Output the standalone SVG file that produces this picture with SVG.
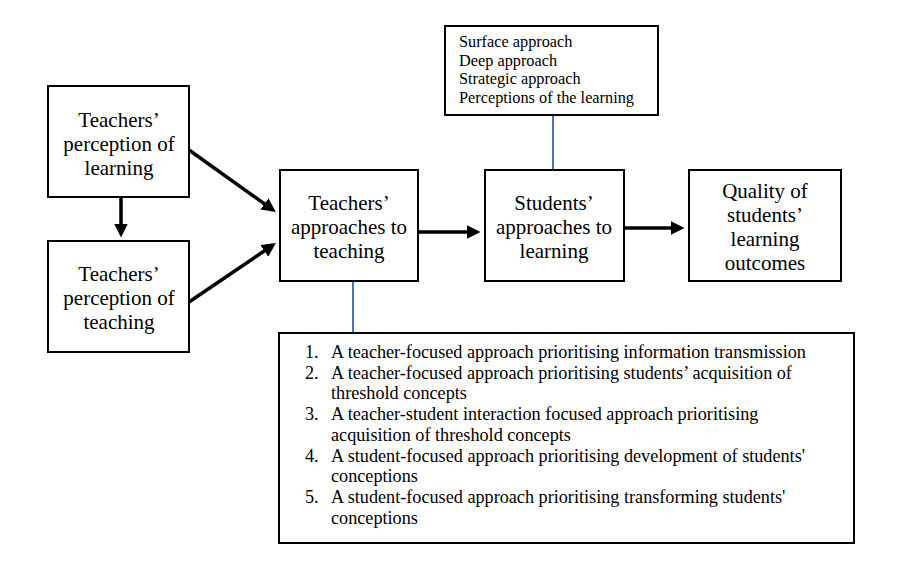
<svg xmlns="http://www.w3.org/2000/svg" width="920" height="574" viewBox="0 0 920 574">
<style>
.b{fill:#fff;stroke:#000;stroke-width:2}
.t{font-family:"Liberation Serif",serif;font-size:21px;text-anchor:middle;fill:#000}
.s{font-family:"Liberation Serif",serif;font-size:16.3px;fill:#000}
.l{font-family:"Liberation Serif",serif;font-size:18.2px;fill:#000}
.a{stroke:#000;stroke-width:3.5;fill:none;marker-end:url(#ah)}
.bl{stroke:#4472c4;stroke-width:2}
</style>
<defs><marker id="ah" markerWidth="4" markerHeight="4" refX="3" refY="2" orient="auto"><path d="M0,0L4,2L0,4z" fill="#000"/></marker></defs>
<rect width="920" height="574" fill="#fff"/>
<g id="connectors">
<line class="a" x1="189" y1="150" x2="273" y2="210"/>
<line class="a" x1="189" y1="302" x2="273" y2="245"/>
<line class="a" x1="121" y1="198" x2="121" y2="234"/>
<line class="a" x1="419" y1="232" x2="477" y2="232"/>
<line class="a" x1="625" y1="228" x2="681" y2="228"/>
<line class="bl" x1="553" y1="115" x2="553" y2="170"/>
<line class="bl" x1="353" y1="281" x2="353" y2="333"/>
</g>
<g id="n1"><rect class="b" x="48" y="86" width="141" height="111"/>
<text class="t" x="119" y="127">Teachers’</text><text class="t" x="119" y="151">perception of</text><text class="t" x="119" y="175">learning</text></g>
<g id="n2"><rect class="b" x="48" y="241" width="141" height="111"/>
<text class="t" x="119" y="281">Teachers’</text><text class="t" x="119" y="305">perception of</text><text class="t" x="119" y="329">teaching</text></g>
<g id="n3"><rect class="b" x="280" y="170" width="138" height="111"/>
<text class="t" x="349" y="210">Teachers’</text><text class="t" x="349" y="234">approaches to</text><text class="t" x="349" y="258">teaching</text></g>
<g id="n4"><rect class="b" x="485" y="170" width="139" height="111"/>
<text class="t" x="554" y="210">Students’</text><text class="t" x="554" y="234">approaches to</text><text class="t" x="554" y="258">learning</text></g>
<g id="n5"><rect class="b" x="689" y="170" width="152" height="111"/>
<text class="t" x="765" y="198">Quality of</text><text class="t" x="765" y="222">students’</text><text class="t" x="765" y="246">learning</text><text class="t" x="765" y="270">outcomes</text></g>
<g id="n6"><rect class="b" x="445" y="26" width="213" height="89" stroke-width="1.5"/>
<text class="s" x="459" y="47">Surface approach</text><text class="s" x="459" y="66">Deep approach</text><text class="s" x="459" y="84">Strategic approach</text><text class="s" x="459" y="103">Perceptions of the learning</text></g>
<g id="n7"><rect class="b" x="279" y="333" width="575" height="210" stroke-width="1.5"/>
<g class="l">
<text x="305" y="358">1.</text><text x="331" y="358">A teacher-focused approach prioritising information transmission</text>
<text x="305" y="379">2.</text><text x="331" y="379">A teacher-focused approach prioritising students’ acquisition of</text>
<text x="331" y="399">threshold concepts</text>
<text x="305" y="420">3.</text><text x="331" y="420">A teacher-student interaction focused approach prioritising</text>
<text x="331" y="441">acquisition of threshold concepts</text>
<text x="305" y="462">4.</text><text x="331" y="462">A student-focused approach prioritising development of students'</text>
<text x="331" y="482">conceptions</text>
<text x="305" y="503">5.</text><text x="331" y="503">A student-focused approach prioritising transforming students'</text>
<text x="331" y="524">conceptions</text>
</g></g>
</svg>
